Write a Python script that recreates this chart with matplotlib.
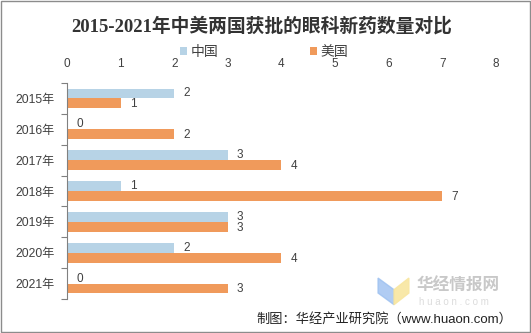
import numpy as np
import matplotlib.pyplot as plt
from matplotlib.patches import Polygon, Rectangle

years = ["2015年", "2016年", "2017年", "2018年", "2019年", "2020年", "2021年"]
china = [2, 0, 3, 1, 3, 2, 0]
usa = [1, 2, 4, 7, 3, 4, 3]
x_ticks = [0, 1, 2, 3, 4, 5, 6, 7, 8]

cjk = ['Liberation Sans', 'Noto Sans CJK SC']
plt.rcParams['font.family'] = cjk

blue = '#b7d3e6'
orange = '#f09a5b'
grey = '#404040'

fig = plt.figure(figsize=(5.31, 3.33), dpi=100)
ax = fig.add_axes([0.1262, 0.102, 0.8078, 0.6488])

y = np.arange(len(years))
h = 0.32
ax.barh(y - h / 2, china, height=h, color=blue, label='中国')
ax.barh(y + h / 2, usa, height=h, color=orange, label='美国')

# value labels right of each bar end
for i in range(len(years)):
    ax.text(china[i] + 0.17, y[i] - h / 2, str(china[i]), va='center', ha='left',
            fontsize=8.5, color=grey)
    ax.text(usa[i] + 0.17, y[i] + h / 2 + 0.03, str(usa[i]), va='center', ha='left',
            fontsize=8.5, color=grey)

ax.set_xlim(0, 8)
ax.set_ylim(len(years) - 0.5, -0.5)
ax.xaxis.tick_top()
ax.set_xticks(x_ticks)
ax.tick_params(axis='x', length=0, pad=9, labelsize=8.5, labelcolor=grey)

# ticks on category boundaries, labels in the middle
ax.set_yticks(np.arange(-0.5, len(years)), minor=False)
ax.set_yticklabels([])
ax.set_yticks(y, minor=True)
ax.set_yticklabels(years, minor=True)
ax.tick_params(axis='y', which='major', length=4, color='#808080', width=0.8)
ax.tick_params(axis='y', which='minor', length=0, pad=9, labelsize=8.7, labelcolor=grey)

for side in ['top', 'right', 'bottom']:
    ax.spines[side].set_visible(False)
ax.spines['left'].set_color('#808080')
ax.spines['left'].set_linewidth(0.8)

fig.text(0.492, 0.922, '2015-2021年中美两国获批的眼科新药数量对比', ha='center', va='center',
         fontsize=13.5, fontweight='bold', color='#333333',
         family=['Liberation Serif', 'Noto Sans CJK SC'])

ax.legend(loc='center', bbox_to_anchor=(0.497, 0.843), bbox_transform=fig.transFigure,
          ncol=2, frameon=False, fontsize=10, handlelength=0.5, handleheight=0.5,
          handletextpad=0.25, columnspacing=6.6, labelcolor=grey)

# watermark logo
fig.patches.append(Polygon([(0.712, 0.165), (0.742, 0.13), (0.742, 0.085), (0.712, 0.12)],
                           closed=True, transform=fig.transFigure, color='#9cc0f0', alpha=0.8))
fig.patches.append(Polygon([(0.742, 0.13), (0.77, 0.165), (0.77, 0.12), (0.742, 0.085)],
                           closed=True, transform=fig.transFigure, color='#f8e6a0', alpha=0.9))
fig.text(0.785, 0.14, '华经情报网', ha='left', va='center', fontsize=12, fontweight='bold',
         color='#c8c8c8')
fig.text(0.79, 0.092, 'h u a o n . c o m', ha='left', va='center', fontsize=7,
         color='#dcdcdc')

fig.text(0.965, 0.04, '制图：华经产业研究院（www.huaon.com）', ha='right', va='center',
         fontsize=9.5, color='#222222')

fig.patches.append(Rectangle((0.001, 0.002), 0.997, 0.995, transform=fig.transFigure,
                             fill=False, edgecolor='#8c8c8c', linewidth=1))

fig.savefig('out.png', dpi=100)
